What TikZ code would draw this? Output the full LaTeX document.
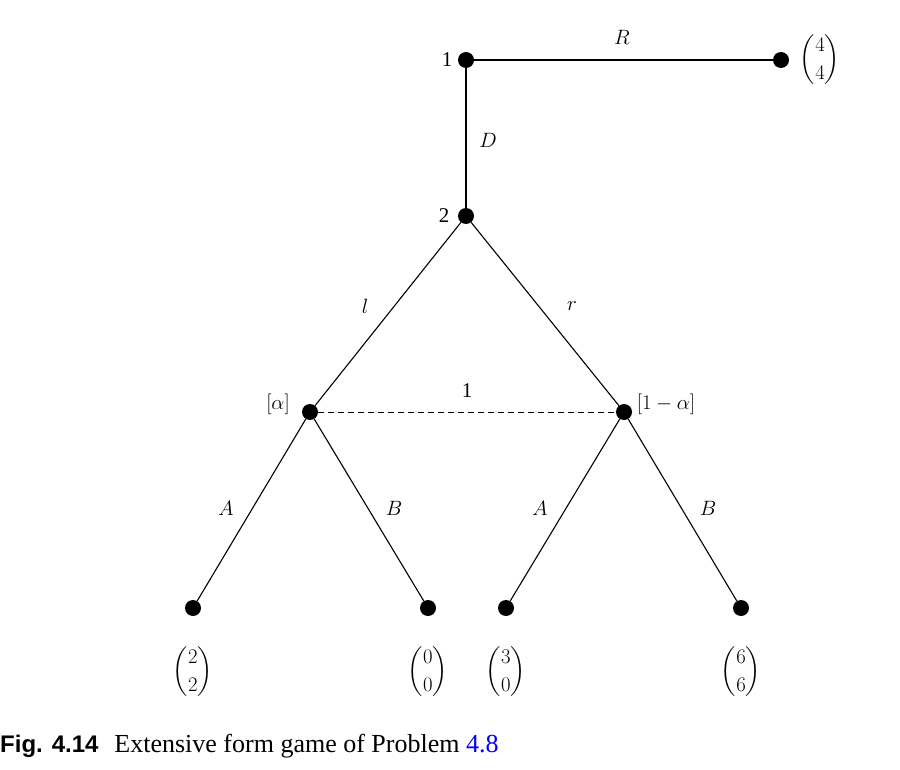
\documentclass[tikz,border=0pt]{standalone}
\usepackage{amsmath}
\usepackage{fontspec}
\setmainfont{Liberation Serif}
\newfontfamily\capfont{Liberation Sans}
\usetikzlibrary{calc}

\begin{document}
\begin{tikzpicture}[x=1pt,y=-1pt,
dot/.style={circle,fill=black,inner sep=0pt,minimum size=16pt},
lab/.style={font=\fontsize{21}{25}\selectfont,inner sep=0pt},
pay/.style={font=\fontsize{22}{26}\selectfont,inner sep=0pt},
edge/.style={line width=1.1pt}]
	\useasboundingbox (0,0) rectangle (900,770);
	% decision nodes
	\node[dot] at (466,60) (n1) {};
	\node[dot] at (781,60) (nR) {};
	\node[dot] at (466,216) (n2) {};
	\node[dot] at (310,412) (na) {};
	\node[dot] at (624,412) (nb) {};
	\node[dot] at (193,608) (l1) {};
	\node[dot] at (428,608) (l2) {};
	\node[dot] at (506,608) (l3) {};
	\node[dot] at (741,608) (l4) {};
	
	\draw[edge] (n1) -- (nR);
	\draw[edge] (n1) -- (n2);
	\draw[edge] (n2) -- (na);
	\draw[edge] (n2) -- (nb);
	\draw[edge] (na) -- (l1);
	\draw[edge] (na) -- (l2);
	\draw[edge] (nb) -- (l3);
	\draw[edge] (nb) -- (l4);
	\draw[line width=0.9pt,dash pattern=on 6pt off 4pt] (na) -- (nb);
	
	\node[lab] at (447,60) {1};
	\node[lab] at (444,216) {2};
	\node[lab] at (467,391) {1};
	\node[lab] at (622,37) {$R$};
	\node[lab] at (488,140) {$D$};
	\node[lab] at (365,306) {$l$};
	\node[lab] at (572,306) {$r$};
	\node[lab] at (278,404) {$[\alpha]$};
	\node[lab] at (666,404) {$[1-\alpha]$};
	\node[lab] at (226,508) {$A$};
	\node[lab] at (394,508) {$B$};
	\node[lab] at (540,508) {$A$};
	\node[lab] at (708,508) {$B$};
	
	\node[pay] at (820,60) (pR) {$\dbinom{4}{4}$};
	\node[pay] at (193,672) (p1) {$\dbinom{2}{2}$};
	\node[pay] at (428,672) (p2) {$\dbinom{0}{0}$};
	\node[pay] at (506,672) (p3) {$\dbinom{3}{0}$};
	\node[pay] at (741,672) (p4) {$\dbinom{6}{6}$};
	
	\node[anchor=west,inner sep=0pt] at (0,746) (cap) {{\capfont\bfseries\fontsize{24}{28}\selectfont Fig. 4.14}\hspace{16pt}{\fontsize{26}{30}\selectfont Extensive form game of Problem \textcolor{blue}{4.8}}};
\end{tikzpicture}
\end{document}
